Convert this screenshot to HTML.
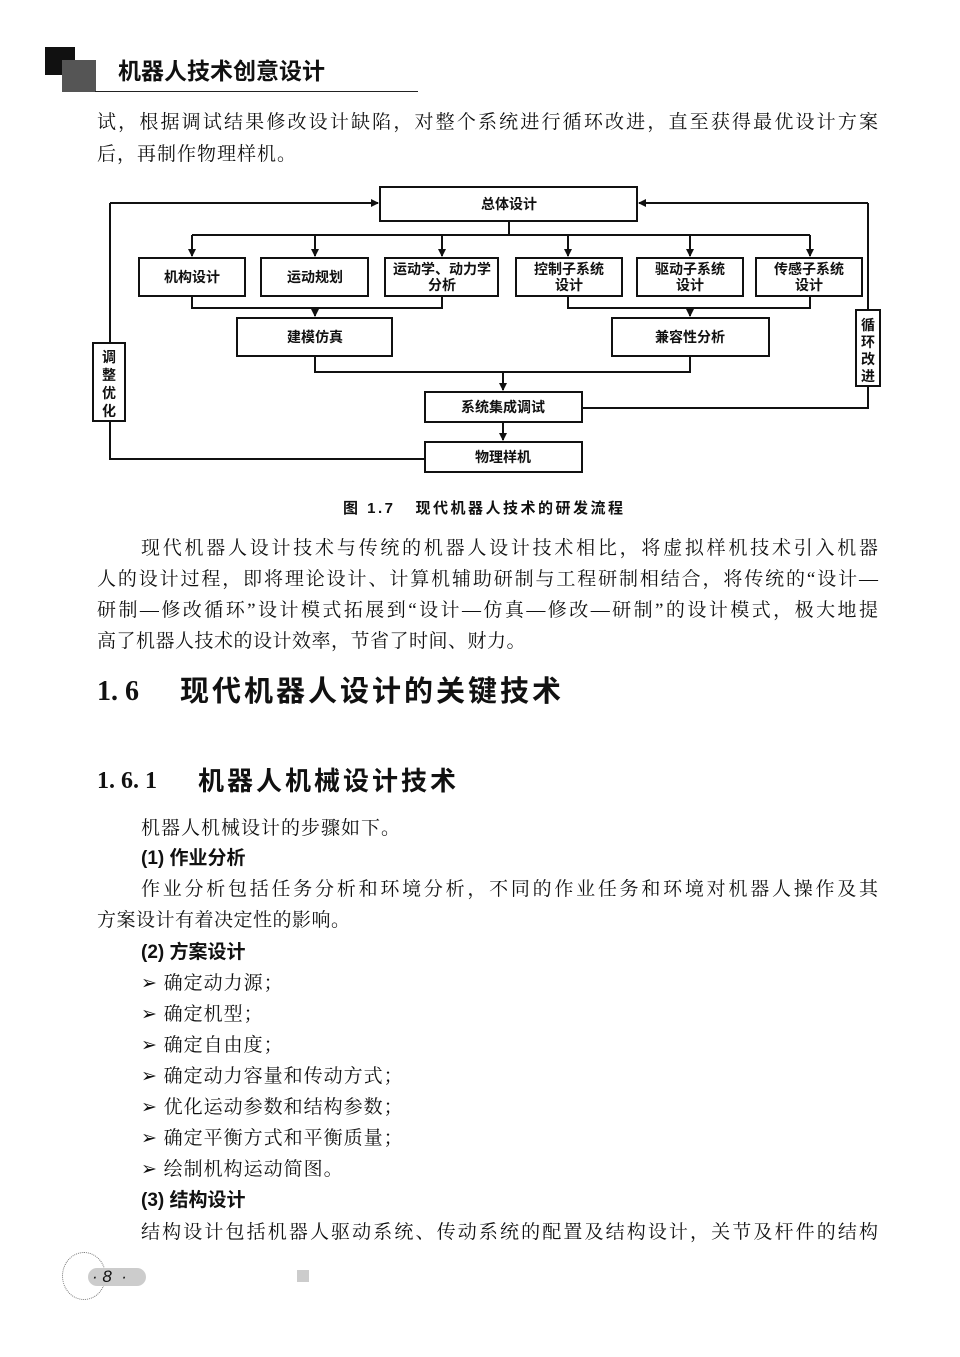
<!DOCTYPE html>
<html><head><meta charset="utf-8">
<style>
body{margin:0;background:#fff;}
#p{position:relative;width:960px;height:1357px;overflow:hidden;background:#fff;font-family:"Liberation Serif","Noto Serif CJK SC","Noto Sans CJK SC",serif;color:#111;}
.l{position:absolute;font-size:19px;line-height:24px;white-space:nowrap;}
.j{text-align:justify;text-align-last:justify;white-space:normal;}
.b{font-family:"Liberation Sans","Noto Sans CJK SC",sans-serif;font-weight:bold;}
.s{font-family:"Liberation Sans","Noto Sans CJK SC",sans-serif;}
svg text{font-family:"Liberation Sans","Noto Sans CJK SC",sans-serif;font-size:14px;font-weight:bold;fill:#111;}
</style></head><body><div id="p">
<div style="position:absolute;left:45px;top:47px;width:30px;height:28px;background:#111"></div>
<div style="position:absolute;left:62px;top:60px;width:34px;height:32px;background:#555"></div>
<div class="l s" style="left:118px;top:57px;font-size:23px;line-height:28px;font-weight:bold;">机器人技术创意设计</div>
<div style="position:absolute;left:95px;top:91px;width:323px;height:1px;background:#222"></div>

<div class="l j" style="left:97px;top:111px;width:781px;">试，根据调试结果修改设计缺陷，对整个系统进行循环改进，直至获得最优设计方案</div>
<div class="l" style="left:97px;top:143px;letter-spacing:1px;">后，再制作物理样机。</div>

<svg style="position:absolute;left:0;top:0" width="960" height="500">
<defs><marker id="a" markerWidth="8" markerHeight="8" refX="7" refY="4" orient="auto" markerUnits="userSpaceOnUse"><path d="M0,0 L8,4 L0,8 z" fill="#111"/></marker></defs>
<g fill="none" stroke="#111" stroke-width="2">
<rect x="380" y="187" width="257" height="34"/>
<rect x="139" y="258" width="106" height="38"/>
<rect x="261" y="258" width="107" height="38"/>
<rect x="385" y="258" width="113" height="38"/>
<rect x="516" y="258" width="106" height="38"/>
<rect x="637" y="258" width="106" height="38"/>
<rect x="756" y="258" width="106" height="38"/>
<rect x="237" y="318" width="155" height="38"/>
<rect x="612" y="318" width="157" height="38"/>
<rect x="425" y="392" width="157" height="30"/>
<rect x="425" y="442" width="157" height="30"/>
<rect x="93" y="343" width="32" height="78"/>
<rect x="856" y="310" width="24" height="76"/>
<path d="M509,221 V235 M192,235 H810"/>
<path d="M192,235 V256" marker-end="url(#a)"/>
<path d="M315,235 V256" marker-end="url(#a)"/>
<path d="M442,235 V256" marker-end="url(#a)"/>
<path d="M568,235 V256" marker-end="url(#a)"/>
<path d="M690,235 V256" marker-end="url(#a)"/>
<path d="M810,235 V256" marker-end="url(#a)"/>
<path d="M192,296 V308 H442 V296 M568,296 V308 H810 V296"/>
<path d="M315,308 V316" marker-end="url(#a)"/>
<path d="M690,308 V316" marker-end="url(#a)"/>
<path d="M315,356 V372 H690 V356"/>
<path d="M503,372 V390" marker-end="url(#a)"/>
<path d="M503,422 V440" marker-end="url(#a)"/>
<path d="M425,459 H110 V421 M110,343 V203"/>
<path d="M110,203 H378" marker-end="url(#a)"/>
<path d="M582,408 H868 V386 M868,310 V203"/>
<path d="M868,203 H639" marker-end="url(#a)"/>
</g>
<text x="509" y="209" text-anchor="middle">总体设计</text>
<text x="192" y="282" text-anchor="middle">机构设计</text>
<text x="315" y="282" text-anchor="middle">运动规划</text>
<text x="442" y="274" text-anchor="middle">运动学、动力学</text>
<text x="442" y="290" text-anchor="middle">分析</text>
<text x="569" y="274" text-anchor="middle">控制子系统</text>
<text x="569" y="290" text-anchor="middle">设计</text>
<text x="690" y="274" text-anchor="middle">驱动子系统</text>
<text x="690" y="290" text-anchor="middle">设计</text>
<text x="809" y="274" text-anchor="middle">传感子系统</text>
<text x="809" y="290" text-anchor="middle">设计</text>
<text x="315" y="342" text-anchor="middle">建模仿真</text>
<text x="690" y="342" text-anchor="middle">兼容性分析</text>
<text x="503" y="412" text-anchor="middle">系统集成调试</text>
<text x="503" y="462" text-anchor="middle">物理样机</text>
<text x="109" y="362" text-anchor="middle">调</text><text x="109" y="380" text-anchor="middle">整</text><text x="109" y="398" text-anchor="middle">优</text><text x="109" y="416" text-anchor="middle">化</text>
<text x="868" y="330" text-anchor="middle">循</text><text x="868" y="347" text-anchor="middle">环</text><text x="868" y="364" text-anchor="middle">改</text><text x="868" y="381" text-anchor="middle">进</text>
</svg>

<div class="l b" style="left:343px;top:499px;font-size:15px;line-height:20px;letter-spacing:2.5px;">图 1.7&nbsp;&nbsp;&nbsp;现代机器人技术的研发流程</div>

<div class="l j" style="left:141px;top:537px;width:737px;">现代机器人设计技术与传统的机器人设计技术相比，将虚拟样机技术引入机器</div>
<div class="l j" style="left:97px;top:568px;width:781px;">人的设计过程，即将理论设计、计算机辅助研制与工程研制相结合，将传统的“设计—</div>
<div class="l j" style="left:97px;top:599px;width:781px;">研制—修改循环”设计模式拓展到“设计—仿真—修改—研制”的设计模式，极大地提</div>
<div class="l" style="left:97px;top:630px;letter-spacing:0.5px;">高了机器人技术的设计效率，节省了时间、财力。</div>

<div class="l" style="left:97px;top:675px;font-size:28px;line-height:34px;font-weight:bold;font-family:'Liberation Serif',serif;">1. 6</div>
<div class="l s" style="left:180px;top:675px;font-size:29px;line-height:34px;font-weight:bold;letter-spacing:3px;">现代机器人设计的关键技术</div>

<div class="l" style="left:97px;top:766px;font-size:24px;line-height:30px;font-weight:bold;font-family:'Liberation Serif',serif;">1. 6. 1</div>
<div class="l s" style="left:198px;top:766px;font-size:26px;line-height:30px;font-weight:bold;letter-spacing:3px;">机器人机械设计技术</div>

<div class="l" style="left:141px;top:817px;letter-spacing:1px;">机器人机械设计的步骤如下。</div>
<div class="l s" style="left:141px;top:847px;font-weight:bold;">(1) 作业分析</div>
<div class="l j" style="left:141px;top:878px;width:737px;">作业分析包括任务分析和环境分析，不同的作业任务和环境对机器人操作及其</div>
<div class="l" style="left:97px;top:909px;letter-spacing:0.5px;">方案设计有着决定性的影响。</div>
<div class="l s" style="left:141px;top:941px;font-weight:bold;">(2) 方案设计</div>
<div class="l" style="left:141px;top:972px;letter-spacing:1px;">➢ 确定动力源；</div>
<div class="l" style="left:141px;top:1003px;letter-spacing:1px;">➢ 确定机型；</div>
<div class="l" style="left:141px;top:1034px;letter-spacing:1px;">➢ 确定自由度；</div>
<div class="l" style="left:141px;top:1065px;letter-spacing:1px;">➢ 确定动力容量和传动方式；</div>
<div class="l" style="left:141px;top:1096px;letter-spacing:1px;">➢ 优化运动参数和结构参数；</div>
<div class="l" style="left:141px;top:1127px;letter-spacing:1px;">➢ 确定平衡方式和平衡质量；</div>
<div class="l" style="left:141px;top:1158px;letter-spacing:1px;">➢ 绘制机构运动简图。</div>
<div class="l s" style="left:141px;top:1189px;font-weight:bold;">(3) 结构设计</div>
<div class="l j" style="left:141px;top:1221px;width:737px;">结构设计包括机器人驱动系统、传动系统的配置及结构设计，关节及杆件的结构</div>

<div style="position:absolute;left:62px;top:1252px;width:42px;height:46px;border:1px dotted #777;border-radius:50%;"></div>
<div style="position:absolute;left:88px;top:1268px;width:58px;height:18px;background:#ccc;border-radius:9px;"></div>
<div class="l s" style="left:92px;top:1265px;font-size:17px;font-style:italic;">·&nbsp;8&nbsp;&nbsp;·</div>
<div style="position:absolute;left:297px;top:1270px;width:12px;height:12px;background:#ccc;"></div>
</div></body></html>
